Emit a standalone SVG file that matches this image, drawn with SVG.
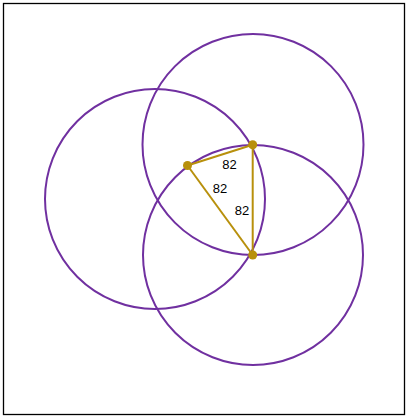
<svg xmlns="http://www.w3.org/2000/svg" width="408" height="419" viewBox="0 0 408 419">
<style>
.c{fill:none;stroke:#7030a0;stroke-width:2}
.e{stroke:#b8900c;stroke-width:2}
.p{fill:#b8900c}
.t{font-family:"Liberation Sans",Arial,sans-serif;font-size:13px;fill:#000;text-anchor:middle}
</style>
<rect x="3.5" y="3.5" width="401" height="411" fill="#fff" stroke="#000" stroke-width="1.3"/>
<g id="circles">
<circle id="circleL" class="c" cx="155" cy="199" r="110"/>
<circle id="circleT" class="c" cx="253" cy="144.5" r="110.5"/>
<circle id="circleB" class="c" cx="253" cy="255" r="110"/>
</g>
<g id="connectors">
<line class="e" x1="187.5" y1="165.5" x2="252.7" y2="144.7"/>
<line class="e" x1="187.5" y1="165.5" x2="252.7" y2="255"/>
<line class="e" x1="252.7" y1="144.7" x2="252.7" y2="255"/>
</g>
<g id="labels">
<text class="t" x="229.5" y="168.5">82</text>
<text class="t" x="220" y="193">82</text>
<text class="t" x="242" y="215">82</text>
</g>
<g id="pA"><circle class="p" cx="187.5" cy="165.5" r="4.5"/></g>
<g id="pB"><circle class="p" cx="252.7" cy="144.7" r="4.5"/></g>
<g id="pC"><circle class="p" cx="252.7" cy="255" r="4.5"/></g>
</svg>
